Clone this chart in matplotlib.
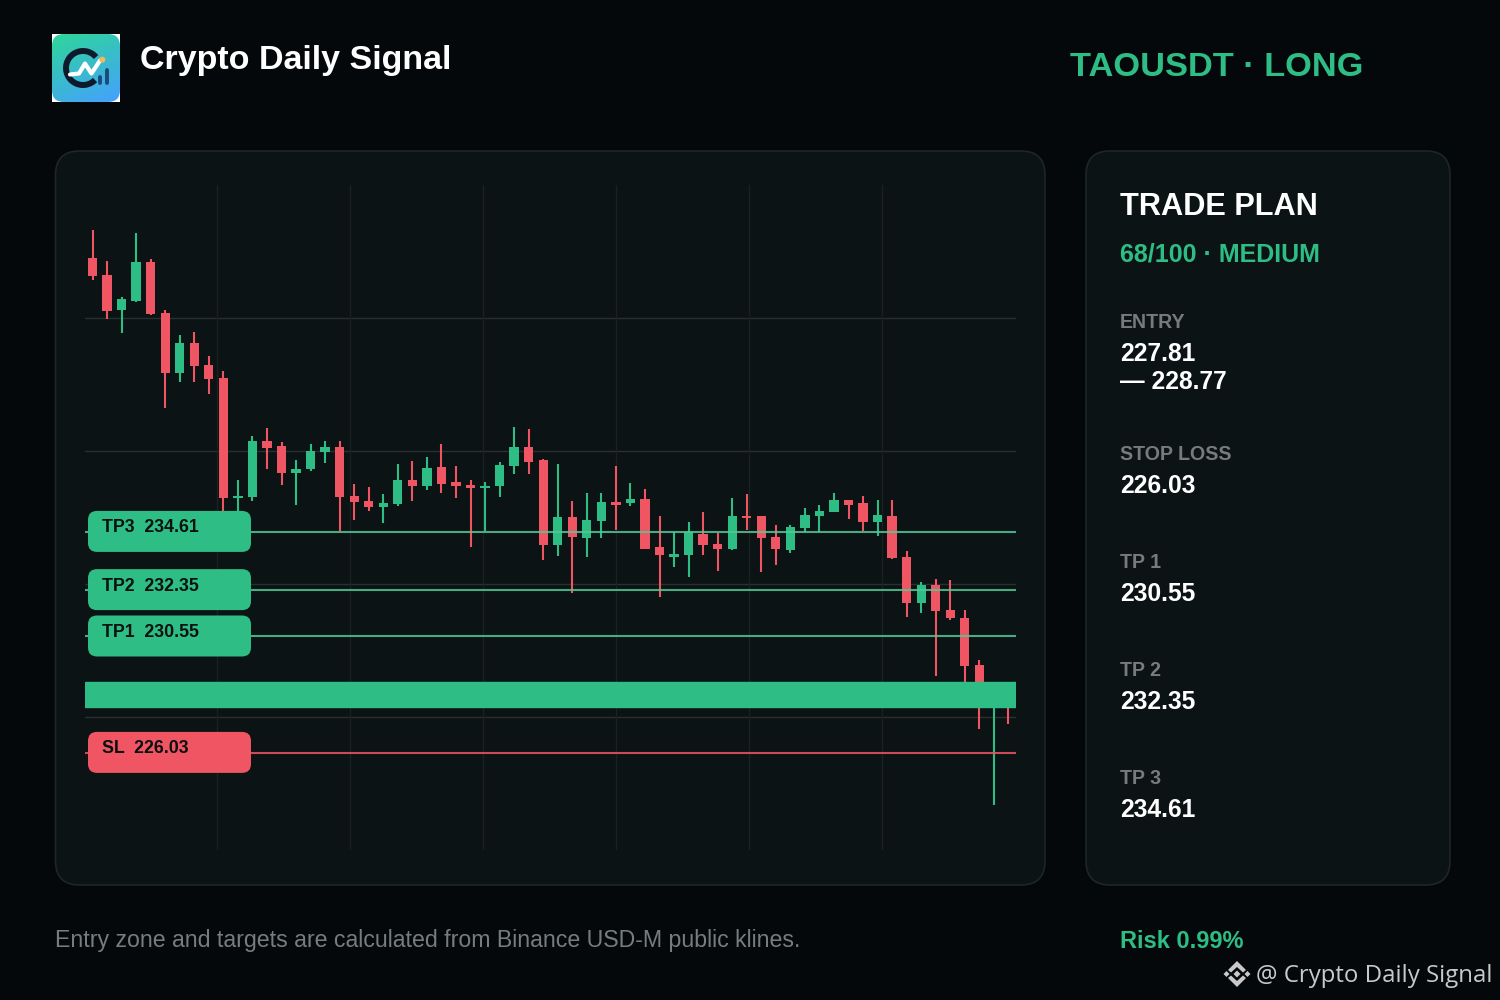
import matplotlib
matplotlib.use("Agg")
import matplotlib.pyplot as plt
import numpy as np
from matplotlib.patches import FancyBboxPatch, Rectangle, Polygon, Circle, Arc

plt.rcParams['font.family'] = ['Liberation Sans', 'DejaVu Sans']

# candles
opens = [245.26, 244.59, 243.23, 243.58, 245.09, 243.11, 240.78, 241.93, 241.10, 240.59,
         235.93, 235.97, 238.14, 237.95, 236.90, 237.05, 237.71, 237.91, 236.01, 235.81,
         235.58, 235.70, 236.63, 236.39, 237.13, 236.55, 236.45, 236.32, 236.39, 237.17,
         237.91, 237.40, 234.10, 235.19, 234.38, 235.04, 235.77, 235.74, 235.89, 234.03,
         233.64, 233.72, 234.53, 234.14, 233.95, 235.23, 235.23, 234.42, 233.91, 234.76,
         235.23, 235.39, 235.85, 235.74, 235.00, 235.23, 233.64, 231.85, 232.55, 231.58,
         231.27, 229.45, 228.01, 228.40]
closes = [244.55, 243.20, 243.64, 245.09, 243.06, 240.78, 241.93, 241.05, 240.55, 235.93,
          236.01, 238.14, 237.87, 236.90, 237.05, 237.75, 237.91, 235.97, 235.77, 235.58,
          235.74, 236.63, 236.39, 237.09, 236.47, 236.39, 236.32, 236.39, 237.21, 237.91,
          237.33, 234.10, 235.19, 234.42, 235.08, 235.77, 235.66, 235.89, 233.95, 233.72,
          233.76, 234.61, 234.10, 233.95, 235.23, 235.15, 234.38, 233.95, 234.80, 235.27,
          235.42, 235.85, 235.66, 235.00, 235.27, 233.60, 231.85, 232.55, 231.54, 231.27,
          229.41, 228.48, 228.40, 228.01]
highs = [246.33, 245.14, 243.72, 246.20, 245.20, 243.23, 242.26, 242.38, 241.44, 240.86,
         236.63, 238.34, 238.65, 238.09, 237.40, 238.03, 238.14, 238.14, 236.47, 236.36,
         236.08, 237.25, 237.38, 237.53, 238.03, 237.17, 236.63, 236.55, 237.33, 238.70,
         238.61, 237.43, 237.25, 235.81, 236.12, 236.12, 237.17, 236.51, 236.28, 235.23,
         234.61, 235.00, 235.39, 234.57, 235.93, 236.08, 235.23, 234.88, 234.88, 235.54,
         235.66, 236.12, 235.85, 236.01, 235.85, 235.85, 233.87, 232.67, 232.78, 232.75,
         231.58, 229.64, 228.48, 228.55]
lows = [244.39, 242.89, 242.32, 243.54, 243.03, 239.43, 240.43, 240.43, 239.97, 235.27,
        235.27, 235.81, 237.05, 236.43, 235.66, 236.98, 237.29, 234.65, 235.08, 235.42,
        234.96, 235.62, 235.81, 236.24, 236.12, 235.93, 234.03, 234.65, 235.97, 236.86,
        236.86, 233.52, 233.68, 232.24, 233.64, 234.38, 234.69, 235.62, 233.95, 232.09,
        233.25, 232.86, 233.72, 233.10, 233.91, 234.69, 233.06, 233.33, 233.81, 234.61,
        234.61, 235.39, 235.11, 234.65, 234.45, 233.56, 231.31, 231.46, 229.02, 231.19,
        228.67, 226.96, 224.01, 227.16]

entry_low = 227.81
entry_high = 228.77
stop_loss = 226.03
tp_names = ["TP1", "TP2", "TP3"]
tp_prices = [230.55, 232.35, 234.61]
hgrid_prices = [242.92, 237.75, 232.57, 227.43]
vgrid_pos = [8.56, 17.72, 26.87, 36.02, 45.18, 54.33]

plan_labels = ["ENTRY", "STOP LOSS", "TP 1", "TP 2", "TP 3"]
plan_values = ["227.81\n\u2014 228.77", "226.03", "230.55", "232.35", "234.61"]

GREEN = "#2ebd85"
RED = "#f05563"
BG = "#05080b"
PANEL = "#0c1314"
EDGE = "#1f2627"
GREY = "#767b7b"

W, H = 1500, 1000
fig = plt.figure(figsize=(15, 10), dpi=100, facecolor=BG)


def pixel_axes(z):
    a = fig.add_axes([0, 0, 1, 1], zorder=z)
    a.set_xlim(0, W)
    a.set_ylim(H, 0)
    a.axis("off")
    return a


def rounded(a, x0, y0, x1, y1, r, **kw):
    p = FancyBboxPatch((x0 + r, y0 + r), x1 - x0 - 2 * r, y1 - y0 - 2 * r,
                       boxstyle="round,pad=%g,rounding_size=%g" % (r, r), **kw)
    a.add_patch(p)
    return p


back = pixel_axes(0)
rounded(back, 55.5, 151, 1045, 885, 24, fc=PANEL, ec=EDGE, lw=1.2)
rounded(back, 1086, 151, 1450, 885, 24, fc=PANEL, ec=EDGE, lw=1.2)

# chart
ax = fig.add_axes([85 / W, 1 - 850 / H, (1016 - 85) / W, (850 - 185) / H], zorder=1)
ax.patch.set_alpha(0)
ax.set_xlim(-0.516, 63.52)
ax.set_ylim(222.26, 248.08)
ax.axis("off")

for p in hgrid_prices:
    ax.axhline(p, color="#2a302f", lw=1, zorder=1)
for v in vgrid_pos:
    ax.axvline(v, color="#1a2120", lw=1, zorder=1)

x = np.arange(len(opens))
o = np.array(opens)
c = np.array(closes)
colors = [GREEN if b >= a else RED for a, b in zip(opens, closes)]
ax.vlines(x, lows, highs, colors=colors, lw=1.5, zorder=2)
ax.bar(x, np.abs(c - o), bottom=np.minimum(o, c), width=0.64, color=colors, zorder=3)

for p in tp_prices:
    ax.axhline(p, color="#55c796", lw=1.5, alpha=0.85, zorder=4)
ax.axhline(stop_loss, color=RED, lw=1.5, alpha=0.85, zorder=4)
ax.axhspan(entry_low, entry_high, fc=GREEN, ec=GREEN, lw=1, zorder=5, clip_on=True)

# pills and text
top = pixel_axes(2)


def price_to_px(p):
    return H - ax.transData.transform((0, p))[1]


def pill(name, price, col):
    yc = price_to_px(price) - 0.5
    rounded(top, 88, yc - 20.5, 251, yc + 20.5, 9, fc=col, ec="none")
    top.text(102, yc - 3.5, "%s  %.2f" % (name, price), color="#0a1110", fontsize=12.8,
             fontweight="bold", va="center", ha="left")


for name, price in zip(tp_names, tp_prices):
    pill(name, price, GREEN)
pill("SL", stop_loss, RED)


def label(xp, yp, s, size_px, col, weight="bold", **kw):
    return top.text(xp, yp, s, color=col, fontsize=size_px * 0.72, fontweight=weight,
                    va="center", ha="left", **kw)


label(140, 61, "Crypto Daily Signal", 34, "white")
label(1070, 67, "TAOUSDT \u00b7 LONG", 34.4, GREEN)
label(1120, 207, "TRADE PLAN", 30.8, "white")
label(1120, 254, "68/100 \u00b7 MEDIUM", 25, GREEN)

label_y = [323, 454, 562, 670, 778]
value_y = [368, 486, 594, 702, 810]
for lab, val, ly, vy in zip(plan_labels, plan_values, label_y, value_y):
    label(1120, ly, lab, 19.6, GREY)
    label(1120, vy, val, 24.6, "white", linespacing=1.17)

label(55, 940, "Entry zone and targets are calculated from Binance USD-M public klines.",
      23.1, "#777c7c", weight="normal")
label(1120, 941, "Risk 0.99%", 23.6, GREEN)

# watermark
label(1256, 976, "@ Crypto Daily Signal", 24, "#c9c9c9", weight="normal",
      family=["Open Sans", "DejaVu Sans"])
wm_x, wm_y = 1237, 974
for sgn in (-1, 1):
    top.add_patch(Polygon([(wm_x, wm_y + sgn * 13), (wm_x + 9, wm_y + sgn * 4),
                           (wm_x + 6, wm_y + sgn * 1.5), (wm_x, wm_y + sgn * 7),
                           (wm_x - 6, wm_y + sgn * 1.5), (wm_x - 9, wm_y + sgn * 4)],
                          fc="#c9c9c9", ec="none"))
for dx, s in [(-10.5, 3), (10.5, 3), (0, 3.5)]:
    top.add_patch(Polygon([(wm_x + dx, wm_y - s), (wm_x + dx + s, wm_y),
                           (wm_x + dx, wm_y + s), (wm_x + dx - s, wm_y)],
                          fc="#c9c9c9", ec="none"))

# logo
logo = fig.add_axes([52 / W, 1 - 102 / H, 68 / W, 68 / H], zorder=3)
logo.set_xlim(0, 68)
logo.set_ylim(68, 0)
logo.axis("off")
logo.add_patch(Rectangle((0, 0), 68, 68, fc="white", ec="none"))
u, v = np.meshgrid(np.linspace(0, 1, 68), np.linspace(0, 1, 68))
t = (u * 0.3 + v * 0.7)[..., None]
grad = (1 - t) * np.array([0.18, 0.84, 0.60]) + t * np.array([0.27, 0.63, 1.0])
im = logo.imshow(grad, extent=(0, 68, 68, 0), aspect="auto", zorder=1)
clip = FancyBboxPatch((9, 9), 50, 50, boxstyle="round,pad=9,rounding_size=12",
                      fc="none", ec="none", transform=logo.transData)
logo.add_patch(clip)
im.set_clip_path(clip)
logo.add_patch(Arc((31, 34), 34, 34, theta1=45, theta2=320, color="#0c1a2b", lw=4.3, zorder=2))
logo.plot([18, 27, 33, 39.5, 48], [40.5, 39.5, 29.5, 39.5, 26.5], color="white", lw=3, zorder=3,
          solid_capstyle="round", solid_joinstyle="round")
logo.add_patch(Circle((50.3, 25.7), 3, fc="#f5b85a", ec="none", zorder=4))
logo.plot([54.7, 54.7], [36, 49], color="#1c4a78", lw=2.8, solid_capstyle="round", zorder=3)
logo.plot([48, 48], [43, 49], color="#1c4a78", lw=2.8, solid_capstyle="round", zorder=3)

fig.savefig("out.png", dpi=100, facecolor=BG)
